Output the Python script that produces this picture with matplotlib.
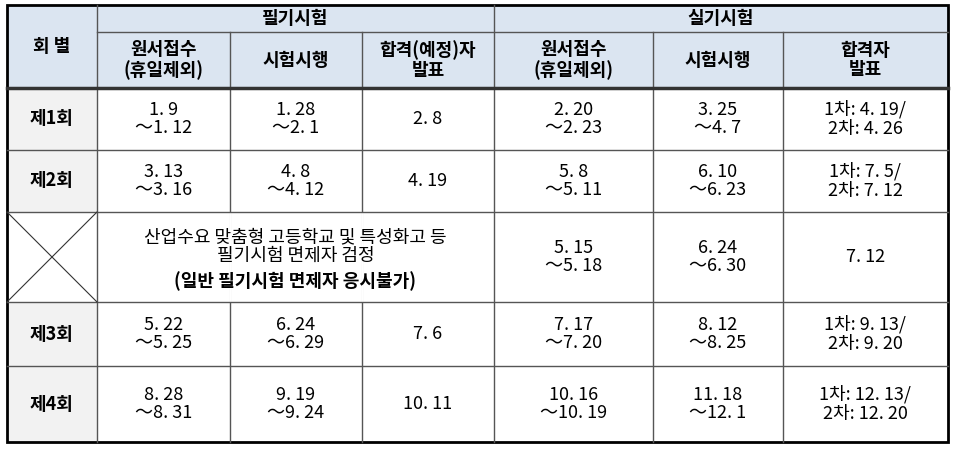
import matplotlib
matplotlib.use("Agg")
import matplotlib.pyplot as plt
from matplotlib.patches import Rectangle

plt.rcParams['font.family'] = ['Noto Sans CJK KR', 'DejaVu Sans']

# table content
groups = ["필기시험", "실기시험"]
sub_headers = ["원서접수\n(휴일제외)", "시험시행", "합격(예정)자\n발표",
               "원서접수\n(휴일제외)", "시험시행", "합격자\n발표"]
row_labels = ["제1회", "제2회", "", "제3회", "제4회"]
rows = [
    ["1. 9\n～1. 12", "1. 28\n～2. 1", "2. 8", "2. 20\n～2. 23", "3. 25\n～4. 7", "1차: 4. 19/\n2차: 4. 26"],
    ["3. 13\n～3. 16", "4. 8\n～4. 12", "4. 19", "5. 8\n～5. 11", "6. 10\n～6. 23", "1차: 7. 5/\n2차: 7. 12"],
    [None, None, None, "5. 15\n～5. 18", "6. 24\n～6. 30", "7. 12"],
    ["5. 22\n～5. 25", "6. 24\n～6. 29", "7. 6", "7. 17\n～7. 20", "8. 12\n～8. 25", "1차: 9. 13/\n2차: 9. 20"],
    ["8. 28\n～8. 31", "9. 19\n～9. 24", "10. 11", "10. 16\n～10. 19", "11. 18\n～12. 1", "1차: 12. 13/\n2차: 12. 20"],
]
special_text = "산업수요 맞춤형 고등학교 및 특성화고 등\n필기시험 면제자 검정"
special_bold = "(일반 필기시험 면제자 응시불가)"

# geometry in pixels
xs = [7, 97, 230, 362, 494, 653, 783, 948]
y_top, y_mid, y_head = 5, 32, 88
ys = [88, 150, 212, 302, 366, 442]

header_bg = "#dbe5f1"
label_bg = "#f2f2f2"

fig = plt.figure(figsize=(9.56, 4.49), dpi=100)
ax = fig.add_axes([0, 0, 1, 1])
ax.set_xlim(0, 956)
ax.set_ylim(449, 0)
ax.axis("off")

# backgrounds
ax.add_patch(Rectangle((xs[0], y_top), xs[-1] - xs[0], y_head - y_top, color=header_bg, lw=0))
ax.add_patch(Rectangle((xs[0], ys[0]), xs[1] - xs[0], ys[-1] - ys[0], color=label_bg, lw=0))
ax.add_patch(Rectangle((xs[0], ys[2]), xs[1] - xs[0], ys[3] - ys[2], color="white", lw=0))

# grid lines
line_c = "#555555"
for x in xs[1:-1]:
    ax.plot([x, x], [y_mid if x not in (xs[1], xs[4]) else y_top, ys[-1]], color=line_c, lw=1)
ax.plot([xs[1], xs[-1]], [y_mid, y_mid], color=line_c, lw=1)
# the special row spans cols 1-3: erase inner verticals there
for x in (xs[2], xs[3]):
    ax.plot([x, x], [ys[2] + 1, ys[3] - 1], color="white", lw=2)
for y in ys[1:-1]:
    ax.plot([xs[0], xs[-1]], [y, y], color=line_c, lw=1)
ax.plot([xs[0], xs[-1]], [y_head, y_head], color="#333333", lw=2.5)
ax.add_patch(Rectangle((xs[0], y_top), xs[-1] - xs[0], ys[-1] - y_top, fill=False, ec="black", lw=2))

# cross in the empty label cell
ax.plot([xs[0], xs[1]], [ys[2], ys[3]], color="#333333", lw=0.8)
ax.plot([xs[0], xs[1]], [ys[3], ys[2]], color="#333333", lw=0.8)

fs = 13
# headers
ax.text((xs[0] + xs[1]) / 2, (y_top + y_head) / 2, "회 별", ha="center", va="center", fontsize=fs, weight="bold")
ax.text((xs[1] + xs[4]) / 2, (y_top + y_mid) / 2, groups[0], ha="center", va="center", fontsize=fs, weight="bold")
ax.text((xs[4] + xs[7]) / 2, (y_top + y_mid) / 2, groups[1], ha="center", va="center", fontsize=fs, weight="bold")
for i, h in enumerate(sub_headers):
    ax.text((xs[i + 1] + xs[i + 2]) / 2, (y_mid + y_head) / 2, h, ha="center", va="center",
            fontsize=fs, weight="bold", linespacing=1.05)

# body
for r, (lab, vals) in enumerate(zip(row_labels, rows)):
    yc = (ys[r] + ys[r + 1]) / 2
    if lab:
        ax.text((xs[0] + xs[1]) / 2, yc, lab, ha="center", va="center", fontsize=fs, weight="bold")
    for c, v in enumerate(vals):
        if v is None:
            continue
        ax.text((xs[c + 1] + xs[c + 2]) / 2, yc, v, ha="center", va="center", fontsize=fs,
                linespacing=1.05)

yc = (ys[2] + ys[3]) / 2
ax.text((xs[1] + xs[4]) / 2, yc - 10, special_text, ha="center", va="center", fontsize=fs, linespacing=1.05)
ax.text((xs[1] + xs[4]) / 2, yc + 24, special_bold, ha="center", va="center", fontsize=fs, weight="bold")

fig.savefig("out.png", dpi=100)
